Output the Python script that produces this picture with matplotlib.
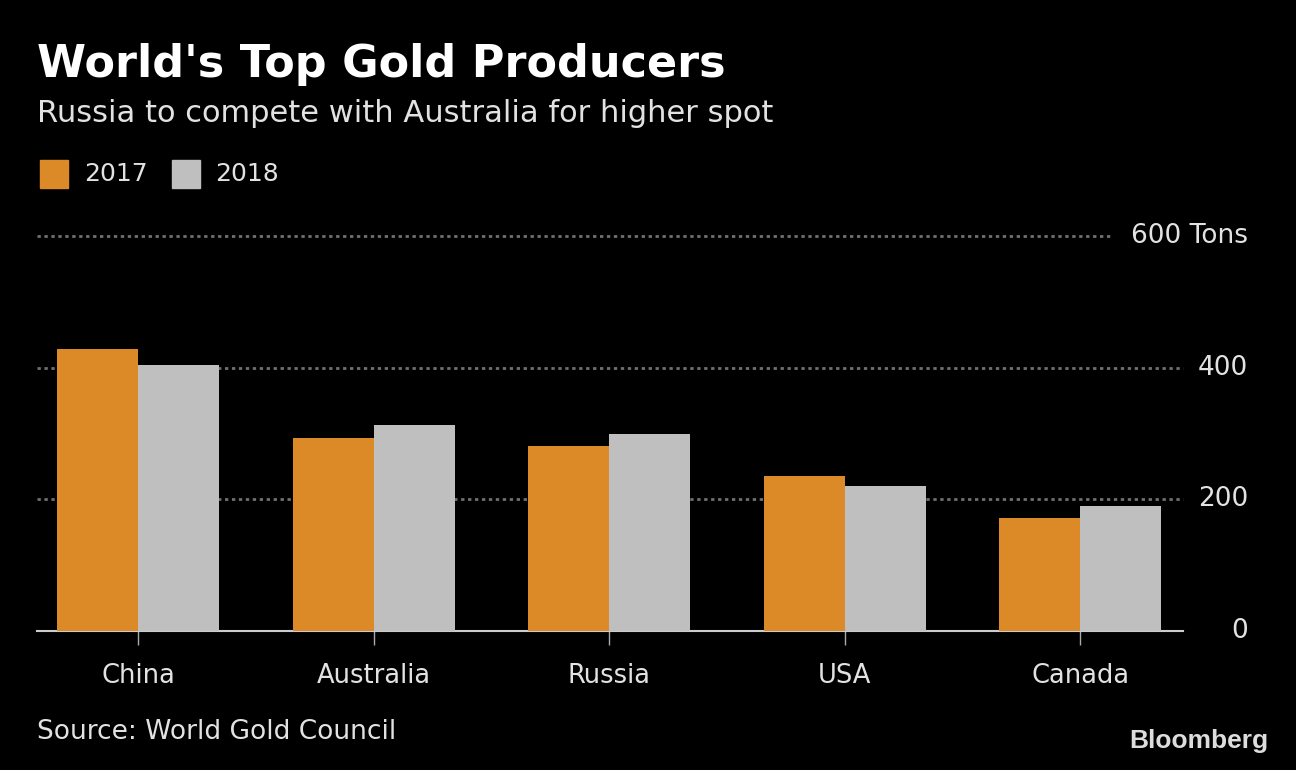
import matplotlib.pyplot as plt
import matplotlib.transforms as mtrans
import numpy as np

countries = ['China', 'Australia', 'Russia', 'USA', 'Canada']
tons_2017 = [428, 293, 281, 235, 172]
tons_2018 = [404, 313, 299, 220, 190]
y_ticks = [0, 200, 400, 600]
y_tick_labels = ['0', '200', '400', '600 Tons']

orange = '#dc8a27'
grey = '#bfbfbf'
text_col = '#e2e2e2'

fig = plt.figure(figsize=(12.96, 7.70), dpi=100)
fig.patch.set_facecolor('black')
ax = fig.add_axes([37 / 1296, 1 - 631 / 770, (1183 - 37) / 1296, (631 - 236) / 770])
ax.set_facecolor('black')

x = np.arange(len(countries))
w = 0.344
ax.bar(x - w / 2, tons_2017, w, color=orange, zorder=3)
ax.bar(x + w / 2, tons_2018, w, color=grey, zorder=3)

ax.set_xlim(-0.43, 4.437)
ax.set_ylim(0, 600)

# dotted gridlines, the 600 one stops short of the unit label
for t in y_ticks[1:]:
    x_end = 1110 if t == 600 else 1183
    ax.plot([0, (x_end - 37) / (1183 - 37)], [t, t], transform=ax.get_yaxis_transform(),
            color='#707070', lw=2, ls=(0, (1.2, 1.3)), zorder=1, clip_on=False)

# right side tick labels
lab_tr = mtrans.blended_transform_factory(fig.transFigure, ax.transData)
for t, lab in zip(y_ticks, y_tick_labels):
    ax.text(1248 / 1296, t, lab, transform=lab_tr,
            ha='right', va='center', fontsize=19, color=text_col)

for s in ['top', 'right', 'left']:
    ax.spines[s].set_visible(False)
ax.spines['bottom'].set_color('#cccccc')
ax.spines['bottom'].set_linewidth(1.5)
ax.set_yticks([])
ax.set_xticks(x)
ax.set_xticklabels(countries, fontsize=18.5, color=text_col)
ax.tick_params(axis='x', colors='#aaaaaa', length=10, width=1, pad=13, labelcolor=text_col)

# titles
fig.text(37 / 1296, 1 - 64 / 770, "World's Top Gold Producers", fontsize=32, fontweight='bold',
         color='white', ha='left', va='center')
fig.text(37 / 1296, 1 - 114 / 770, 'Russia to compete with Australia for higher spot', fontsize=22,
         color=text_col, ha='left', va='center')

# legend
for xs, col, lab, xt in [(40, orange, '2017', 84), (172, grey, '2018', 215)]:
    fig.patches.append(plt.Rectangle((xs / 1296, 1 - 188 / 770), 28 / 1296, 28 / 770,
                                     transform=fig.transFigure, color=col, figure=fig))
    fig.text(xt / 1296, 1 - 174 / 770, lab, fontsize=18, color=text_col, ha='left', va='center')

fig.text(37 / 1296, 1 - 732 / 770, 'Source: World Gold Council', fontsize=19, color=text_col,
         ha='left', va='center')
fig.text(1268 / 1296, 1 - 741 / 770, 'Bloomberg', fontsize=19, fontweight='heavy', color='#dddddd',
         ha='right', va='center', family='Liberation Sans')

fig.savefig('out.png', dpi=100, facecolor='black')
